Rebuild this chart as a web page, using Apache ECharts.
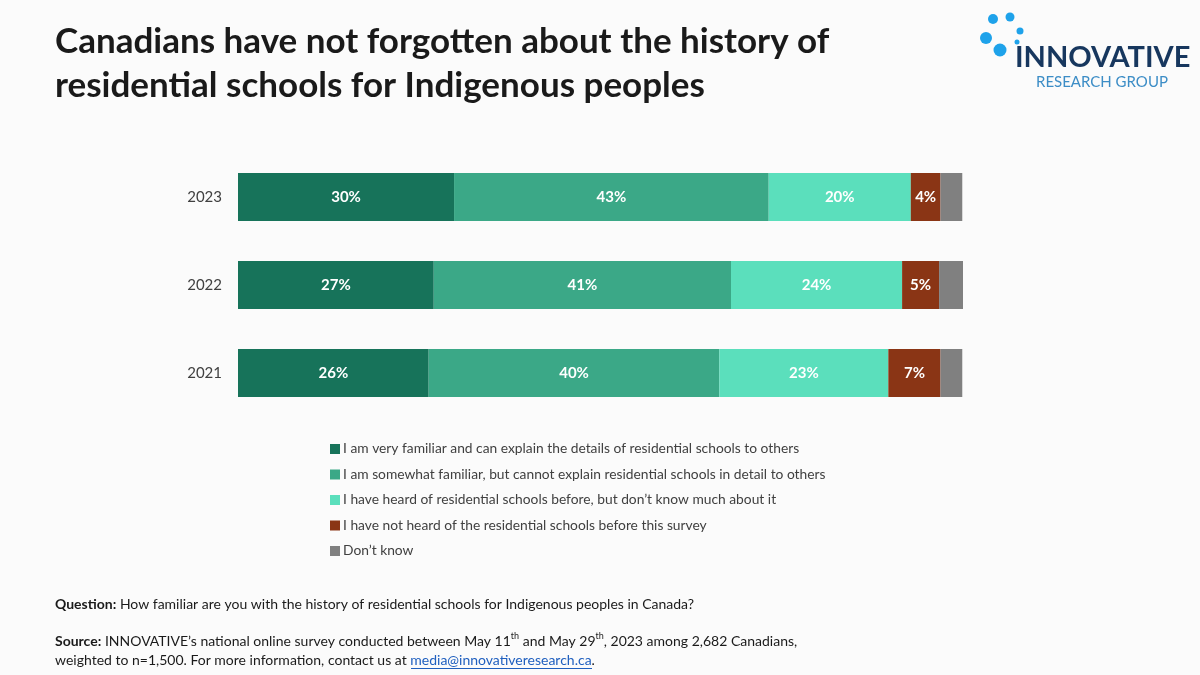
<!DOCTYPE html>
<html>
<head>
<meta charset="utf-8">
<script src="https://cdn.jsdelivr.net/npm/echarts@6/dist/echarts.min.js"></script>
<style>
  html, body { margin: 0; padding: 0; background: #fbfbfb; }
  #chart { width: 1200px; height: 675px; }
</style>
</head>
<body>
<div id="chart"></div>
<script>
// data (per cent of respondents)
const years = ["2021", "2022", "2023"];
const seriesNames = [
  "I am very familiar and can explain the details of residential schools to others",
  "I am somewhat familiar, but cannot explain residential schools in detail to others",
  "I have heard of residential schools before, but don\u2019t know much about it",
  "I have not heard of the residential schools before this survey",
  "Don\u2019t know"
];
const veryFamiliar = [26.3, 27.0, 29.8];
const somewhatFamiliar = [40.1, 41.0, 43.4];
const heardOf = [23.3, 23.6, 19.6];
const notHeard = [7.2, 5.1, 4.1];
const dontKnow = [3.0, 3.3, 3.0];
const showLabel = [true, true, true, true, false];

const colors = ["#17735a", "#3ba887", "#5bdfbc", "#8a3515", "#808080"];
const values = [veryFamiliar, somewhatFamiliar, heardOf, notHeard, dontKnow];

const chart = echarts.init(document.getElementById("chart"));

const series = seriesNames.map((name, i) => ({
  name: name,
  type: "bar",
  stack: "total",
  barWidth: 48,
  data: values[i],
  itemStyle: { color: colors[i] },
  label: {
    show: showLabel[i],
    position: "inside",
    color: "#ffffff",
    fontFamily: "Lato",
    fontWeight: "bold",
    fontSize: 15,
    formatter: p => Math.round(p.value) + "%"
  }
}));

// logo dots
const dots = [
  [993, 19, 5], [1010, 17, 4.5], [1020, 31, 3.5],
  [986, 38, 6], [1017, 42, 2.5], [1000, 50, 6.5]
];

const option = {
  backgroundColor: "#fbfbfb",
  animation: false,
  title: {
    text: "Canadians have not forgotten about the history of\nresidential schools for Indigenous peoples",
    left: 50,
    top: 15,
    textStyle: {
      fontFamily: "Lato",
      fontWeight: "bold",
      fontSize: 35,
      color: "#1a1a1a",
      lineHeight: 44
    }
  },
  grid: { left: 238, right: 237, top: 153, bottom: 258 },
  xAxis: {
    type: "value",
    min: 0,
    max: 100,
    show: false
  },
  yAxis: {
    type: "category",
    data: years,
    axisLine: { show: false },
    axisTick: { show: false },
    axisLabel: {
      margin: 16,
      fontFamily: "Lato",
      fontSize: 15,
      color: "#404040"
    }
  },
  legend: {
    orient: "vertical",
    left: 325,
    top: 437,
    itemWidth: 10,
    itemHeight: 10,
    itemGap: 11.5,
    icon: "rect",
    textStyle: {
      fontFamily: "Lato",
      fontSize: 13.8,
      color: "#404040",
      padding: [0, 0, 0, -2]
    }
  },
  series: series,
  graphic: [
    ...dots.map(d => ({
      type: "circle",
      shape: { cx: d[0], cy: d[1], r: d[2] },
      style: { fill: "#1ea2ea" }
    })),
    {
      type: "text",
      left: 1015,
      top: 43,
      style: {
        text: "INNOVATIVE",
        fontFamily: "Lato",
        fontSize: 29,
        fontWeight: "bold",
        fill: "#17375e"
      }
    },
    {
      type: "text",
      left: 1036,
      top: 75,
      style: {
        text: "RESEARCH GROUP",
        fontFamily: "Lato",
        fontSize: 15,
        fill: "#3c8dc6"
      }
    },
    {
      type: "text",
      left: 55,
      top: 597,
      style: {
        text: "{b|Question:} How familiar are you with the history of residential schools for Indigenous peoples in Canada?",
        fontFamily: "Lato",
        fontSize: 14,
        fill: "#1a1a1a",
        rich: { b: { fontFamily: "Lato", fontSize: 14, fontWeight: "bold", fill: "#1a1a1a" } }
      }
    },
    {
      type: "text",
      left: 55,
      top: 632,
      style: {
        text: "{b|Source:} INNOVATIVE\u2019s national online survey conducted between May 11{s|th} and May 29{s|th}, 2023 among 2,682 Canadians,\nweighted to n=1,500. For more information, contact us at {l|media@innovativeresearch.ca}.",
        fontFamily: "Lato",
        fontSize: 14,
        lineHeight: 19,
        fill: "#1a1a1a",
        rich: {
          b: { fontFamily: "Lato", fontSize: 14, fontWeight: "bold", fill: "#1a1a1a", lineHeight: 19 },
          s: { fontFamily: "Lato", fontSize: 9, fill: "#1a1a1a", verticalAlign: "top", lineHeight: 19, padding: [0, 0, 6, 0] },
          l: { fontFamily: "Lato", fontSize: 14, fill: "#1f5fbf", lineHeight: 19 }
        }
      }
    },
    {
      type: "line",
      shape: { x1: 411, y1: 668.5, x2: 592, y2: 668.5 },
      style: { stroke: "#1f5fbf", lineWidth: 1 }
    }
  ]
};

chart.setOption(option);
</script>
</body>
</html>
